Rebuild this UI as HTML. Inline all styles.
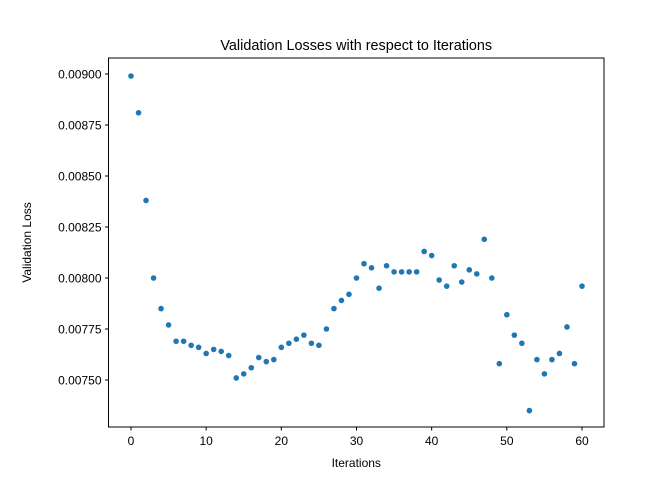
<!DOCTYPE html>
<html><head><meta charset="utf-8"><style>
body{margin:0;background:#fff}
svg text{font-family:"Liberation Sans","DejaVu Sans",sans-serif;fill:#000}
</style></head><body>
<svg id="chart" width="668" height="480">
<rect width="668" height="480" fill="#fff"/>
</svg>
<script>
const iterations=[...Array(61).keys()];
const losses=[0.00899,0.00881,0.00838,0.00800,0.00785,0.00777,0.00769,0.00769,0.00767,0.00766,0.00763,0.00765,0.00764,0.00762,0.00751,0.00753,0.00756,0.00761,0.00759,0.00760,0.00766,0.00768,0.00770,0.00772,0.00768,0.00767,0.00775,0.00785,0.00789,0.00792,0.00800,0.00807,0.00805,0.00795,0.00806,0.00803,0.00803,0.00803,0.00803,0.00813,0.00811,0.00799,0.00796,0.00806,0.00798,0.00804,0.00802,0.00819,0.00800,0.00758,0.00782,0.00772,0.00768,0.00735,0.00760,0.00753,0.00760,0.00763,0.00776,0.00758,0.00796];
const xTicks=[0,10,20,30,40,50,60];
const yTicks=[0.0075,0.00775,0.008,0.00825,0.0085,0.00875,0.009];
const yTickLabels=["0.00750","0.00775","0.00800","0.00825","0.00850","0.00875","0.00900"];
const L=108.5,R=604,T=58,B=427;
const X=v=>131+(v-0)*(582-131)/60;
const Y=v=>380-(v-0.0075)*(306/0.0015);
const svg=document.getElementById('chart');
const NS='http://www.w3.org/2000/svg';
function mk(tag,attrs,parent){const e=document.createElementNS(NS,tag);for(const k in attrs)e.setAttribute(k,attrs[k]);(parent||svg).appendChild(e);return e;}
const pts=mk('g',{});


iterations.forEach((it,i)=>{
 const c=mk('circle',{cx:X(it),cy:Y(losses[i]),r:2.8,fill:'#1f77b4'},pts);
 
 
});
const frame=mk('rect',{x:L,y:T,width:R-L,height:B-T,fill:'none',stroke:'#000','stroke-width':1});


xTicks.forEach(t=>{
 const l=mk('line',{x1:X(t),x2:X(t),y1:B,y2:B+3.5,stroke:'#000'});
 
 
 const tx=mk('text',{x:X(t),y:B+18,'text-anchor':'middle','font-size':12});
 tx.textContent=t;
 
 
});
yTicks.forEach((t,i)=>{
 const l=mk('line',{x1:L-3.5,x2:L,y1:Y(t),y2:Y(t),stroke:'#000'});
 
 
 const tx=mk('text',{x:L-7,y:Y(t)+4.5,'text-anchor':'end','font-size':12});
 tx.textContent=yTickLabels[i];
 
 
});
const title=mk('text',{x:(L+R)/2,y:50,'text-anchor':'middle','font-size':14.4});
title.textContent='Validation Losses with respect to Iterations';


const xl=mk('text',{x:(L+R)/2,y:467,'text-anchor':'middle','font-size':12});
xl.textContent='Iterations';


const yl=mk('text',{x:0,y:0,'text-anchor':'middle','font-size':12,transform:`translate(31,${(T+B)/2}) rotate(-90)`});
yl.textContent='Validation Loss';


</script>
</body></html>
